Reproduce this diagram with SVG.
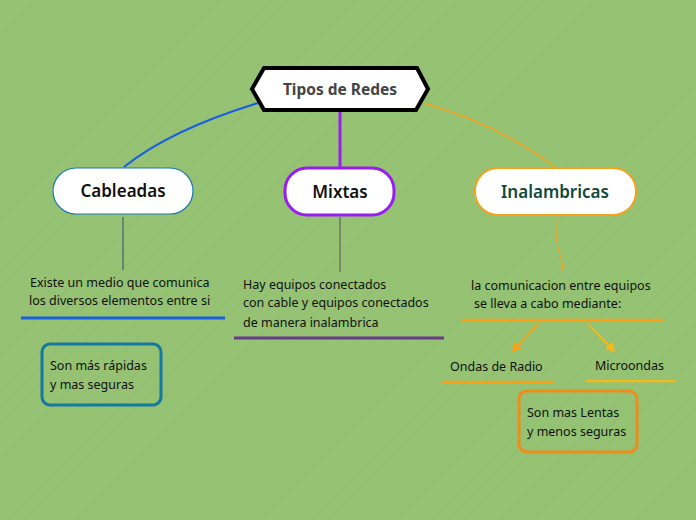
<svg xmlns="http://www.w3.org/2000/svg" width="696" height="520" viewBox="0 0 696 520">
<defs>
<pattern id="st" width="12" height="12" patternUnits="userSpaceOnUse" patternTransform="rotate(45)">
<rect width="12" height="12" fill="#95c273"/><line x1="0" y1="0" x2="0" y2="12" stroke="#8bb86a" stroke-width="1"/>
</pattern>
<marker id="ar" viewBox="0 0 10 10" refX="8" refY="5" markerWidth="5" markerHeight="5" orient="auto"><path d="M0,0L10,5L0,10z" fill="#f7a21b"/></marker>
<marker id="ar2" viewBox="0 0 10 10" refX="8" refY="5" markerWidth="5" markerHeight="5" orient="auto"><path d="M0,0L10,5L0,10z" fill="#f7b81b"/></marker>
</defs>
<style>
text{font-family:"Noto Sans","Open Sans",sans-serif;fill:#111}
.t{font-size:12.5px}
.h{font-size:17px;font-weight:600;text-anchor:middle}
.n{fill:#fff}
</style>
<rect width="696" height="520" fill="url(#st)"/>
<g id="connectors" fill="none">
<path d="M258,103 Q170,130 124,167" stroke="#1a5fe0" stroke-width="2"/>
<line x1="340" y1="110" x2="340" y2="168" stroke="#9b1cf0" stroke-width="3"/>
<path d="M424,103 Q500,125 556,168" stroke="#f7a21b" stroke-width="1.5"/>
<line x1="123" y1="217" x2="123" y2="270" stroke="#2f4f70" stroke-width="1"/>
<line x1="340" y1="217" x2="340" y2="272" stroke="#555" stroke-width="1"/>
<path d="M556,220 Q555,240 560,255 Q563,262 563,271" stroke="#f7a21b" stroke-width="1"/>
<line x1="21" y1="318" x2="225" y2="318" stroke="#1a5fe0" stroke-width="3"/>
<line x1="234" y1="338" x2="444" y2="338" stroke="#6a3a8a" stroke-width="3"/>
<line x1="462" y1="320" x2="663" y2="320" stroke="#f7a21b" stroke-width="2.5"/>
<line x1="538" y1="324" x2="513" y2="351" stroke="#f7a21b" stroke-width="2" marker-end="url(#ar)"/>
<line x1="588" y1="324" x2="614" y2="351" stroke="#f7b81b" stroke-width="2" marker-end="url(#ar2)"/>
<line x1="442" y1="382" x2="553" y2="382" stroke="#f7a21b" stroke-width="2.5"/>
<line x1="586" y1="381" x2="676" y2="381" stroke="#f7b81b" stroke-width="2.5"/>
</g>
<g id="root"><polygon points="252,89 264,68 417,68 428,89 416,110 264,110" fill="#fff" stroke="#000" stroke-width="4"/>
<text x="340" y="95" class="h" style="font-size:15.5px;font-weight:700;fill:#444">Tipos de Redes</text></g>
<g id="cableadas"><rect x="53" y="168" width="140" height="46" rx="23" class="n" stroke="#1a7ab0" stroke-width="1.2"/><text x="123" y="197" class="h">Cableadas</text></g>
<g id="mixtas"><rect x="285" y="168" width="109" height="47" rx="22" class="n" stroke="#9b1cf0" stroke-width="3"/><text x="340" y="198" class="h">Mixtas</text></g>
<g id="inalambricas"><rect x="475" y="168" width="161" height="47" rx="23" class="n" stroke="#f7a21b" stroke-width="2"/><text x="555" y="198" class="h" style="fill:#0f4a3a">Inalambricas</text></g>
<g id="cab-text"><text class="t" x="30" y="287">Existe un medio que comunica</text><text class="t" x="29" y="305">los diversos elementos entre si</text></g>
<g id="mix-text"><text class="t" x="243" y="289">Hay equipos conectados</text><text class="t" x="243" y="307">con cable y equipos conectados</text><text class="t" x="243" y="327">de manera inalambrica</text></g>
<g id="ina-text"><text class="t" x="471" y="290">la comunicacion entre equipos</text><text class="t" x="474" y="308">se lleva a cabo mediante:</text></g>
<g id="ondas"><text class="t" x="450" y="371">Ondas de Radio</text></g>
<g id="micro"><text class="t" x="595" y="370">Microondas</text></g>
<g id="rapidas"><rect x="42" y="344" width="119" height="61" rx="8" fill="none" stroke="#1478a0" stroke-width="3"/><text class="t" x="50" y="370">Son más rápidas</text><text class="t" x="50" y="389">y mas seguras</text></g>
<g id="lentas"><rect x="519" y="391" width="118" height="61" rx="8" fill="none" stroke="#f08c1e" stroke-width="3"/><text class="t" x="527" y="417">Son mas Lentas</text><text class="t" x="527" y="436">y menos seguras</text></g>
</svg>
